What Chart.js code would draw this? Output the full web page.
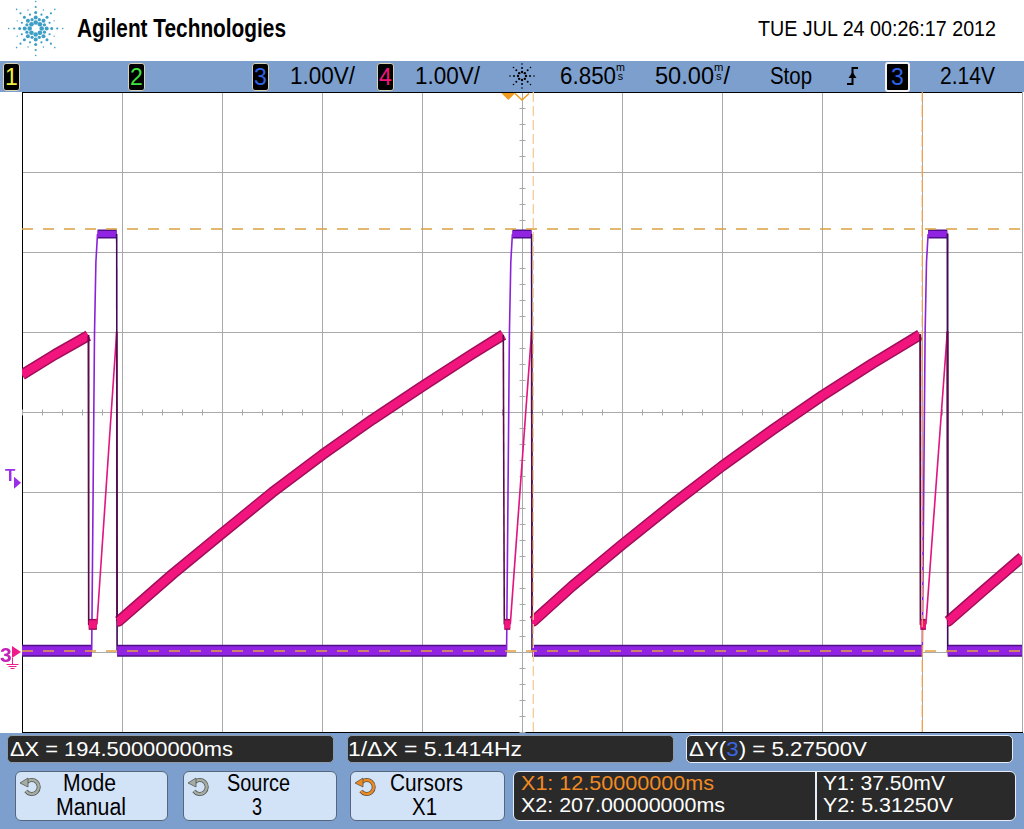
<!DOCTYPE html>
<html lang="en">
<head>
<meta charset="UTF-8">
<title>Agilent Technologies - cursors</title>
<script src="https://cdn.jsdelivr.net/npm/chart.js@4.4.1/dist/chart.umd.min.js"></script>
<style>
  html, body { margin: 0; padding: 0; }
  body { width: 1024px; height: 829px; position: relative; overflow: hidden; background: #fff;
         font-family: "Liberation Sans Narrow", "Liberation Sans", Arial, sans-serif; color: #000; }
  .t { position: absolute; white-space: nowrap; height: 30px; line-height: 30px; transform-origin: 0 50%; }
  .bar { position: absolute; left: 0; width: 1024px; background: #7c9fcd; }
  .chbox { position: absolute; top: 63px; height: 26px; width: 15px; background: #000; border: 1px solid #d9d2b4;
           border-radius: 3px; text-align: center; font-size: 23px; line-height: 27px; }
  .meas { position: absolute; top: 735px; height: 26px; background: #2a2a2a; border: 1.5px solid #8e9aa8; border-radius: 5px; }
  .key { position: absolute; top: 771px; height: 48px; background: #d3e3f7; border: 1.5px solid #56677c; border-radius: 6px; }
  .unit { display: inline-block; font-size: 11px; line-height: 9px; vertical-align: 4px; text-align: center; }
  .w { color: #fff; }
  #scope { position: absolute; left: 0; top: 90px; width: 1024px; height: 644px; }
</style>
</head>
<body>
  <!-- header -->
  <svg id="logo" width="72" height="60" style="position:absolute;left:0;top:0"></svg>
  <div class="t" style="left:77px;top:13px;font-size:25.5px;font-weight:bold" data-w="209">Agilent Technologies</div>
  <div class="t" style="left:758px;top:14px;font-size:22px" data-w="238">TUE JUL 24 00:26:17 2012</div>

  <!-- channel / timebase bar -->
  <div class="bar" style="top:61px;height:31px"></div>
  <div class="chbox" style="left:3px;color:#f4f040">1</div>
  <div class="chbox" style="left:128px;color:#3fe03f">2</div>
  <div class="chbox" style="left:252px;color:#2f62e6">3</div>
  <div class="t" style="left:290px;top:61px;font-size:23px" data-w="65">1.00V/</div>
  <div class="chbox" style="left:377px;color:#f0167f">4</div>
  <div class="t" style="left:415px;top:61px;font-size:23px" data-w="65">1.00V/</div>
  <svg id="acq" width="30" height="30" style="position:absolute;left:507px;top:61px"></svg>
  <div class="t" style="left:560px;top:61px;font-size:23px" data-w="65">6.850<span class="unit">m<br>s</span></div>
  <div class="t" style="left:655px;top:61px;font-size:23px" data-w="75">50.00<span class="unit">m<br>s</span>/</div>
  <div class="t" style="left:770px;top:61px;font-size:23px" data-w="42">Stop</div>
  <svg width="14" height="22" style="position:absolute;left:846px;top:65px">
    <path d="M1 19 H6.5 V3 H12" fill="none" stroke="#000" stroke-width="2"/>
    <polygon points="2.5,13 6.5,7 10.5,13" fill="#000"/>
  </svg>
  <div class="chbox" style="left:885px;width:21px;border:2px solid #f2f2f2;top:62px;color:#2f62e6">3</div>
  <div class="t" style="left:940px;top:61px;font-size:23px" data-w="55">2.14V</div>

  <!-- bottom softkey / readout bar -->
  <div class="bar" style="top:733px;height:96px"></div>
  <div class="meas" style="left:7px;width:325px"></div>
  <div class="meas" style="left:347px;width:325px"></div>
  <div class="meas" style="left:686px;width:325px;border-color:#e6edf6"></div>
  <div class="t w" style="left:10px;top:734px;font-size:21px" data-w="223">&Delta;X = 194.50000000ms</div>
  <div class="t w" style="left:348px;top:734px;font-size:21px" data-w="174">1/&Delta;X = 5.1414Hz</div>
  <div class="t w" style="left:689px;top:734px;font-size:21px" data-w="178">&Delta;Y(<span style="color:#3a66e0">3</span>) = 5.27500V</div>

  <div class="key" style="left:15px;width:151px"></div>
  <div class="key" style="left:183px;width:152px"></div>
  <div class="key" style="left:350px;width:153px"></div>
  <svg class="ico" data-c="#a3ada2" width="26" height="22" style="position:absolute;left:19px;top:776px"></svg>
  <svg class="ico" data-c="#a3ada2" width="26" height="22" style="position:absolute;left:187px;top:776px"></svg>
  <svg class="ico" data-c="#f08a1c" width="26" height="22" style="position:absolute;left:354px;top:776px"></svg>
  <div class="t" style="left:63px;top:768px;font-size:23px" data-w="53">Mode</div>
  <div class="t" style="left:56px;top:792px;font-size:23px" data-w="70">Manual</div>
  <div class="t" style="left:227px;top:768px;font-size:23px" data-w="63">Source</div>
  <div class="t" style="left:252px;top:792px;font-size:23px" data-w="10">3</div>
  <div class="t" style="left:390px;top:768px;font-size:23px" data-w="73">Cursors</div>
  <div class="t" style="left:412px;top:792px;font-size:23px" data-w="25">X1</div>

  <div class="key" style="left:513px;width:501px;height:48px;background:#2a2a2a;border-color:#e6edf6"></div>
  <div style="position:absolute;left:815px;top:772px;width:1.5px;height:49px;background:#e6edf6"></div>
  <div class="t" style="left:521px;top:768px;font-size:21px;color:#f28a22" data-w="193">X1: 12.50000000ms</div>
  <div class="t w" style="left:521px;top:790px;font-size:21px" data-w="204">X2: 207.00000000ms</div>
  <div class="t w" style="left:823px;top:768px;font-size:21px" data-w="122">Y1: 37.50mV</div>
  <div class="t w" style="left:823px;top:790px;font-size:21px" data-w="130">Y2: 5.31250V</div>

  <!-- waveform area -->
  <div id="scope"><canvas id="scopeChart"></canvas></div>

<script>
// horizontal: 50 ms/div, 10 divisions, delay 6.850 ms at screen centre
const timeDiv = 50;
const delayMs = 6.85;
const xMin = delayMs - 5 * timeDiv;
const xMax = delayMs + 5 * timeDiv;
// vertical: 1.00 V/div, 8 divisions, ground marker 3.025 div under centre
const yMin = -0.975;
const yMax = 7.025;

// channel 3 (purple) - gate pulse
const ch3Ms = [-243.15, -208.3, -207.6, -206.9, -206.2, -205.4, -195.8, -195.6,
               -0.85, -0.15, 0.55, 1.25, 2.05, 11.65, 11.85,
               207.0, 207.7, 208.4, 209.1, 209.9, 219.5, 219.7, 256.85];
const ch3V  = [0.04, 0.04, 2.0, 4.0, 4.9, 5.25, 5.25, 0.04,
               0.04, 2.0, 4.0, 4.9, 5.25, 5.25, 0.04,
               0.04, 2.0, 4.0, 4.9, 5.25, 5.25, 0.04, 0.04];

// channel 4 (pink) - ramp
const ch4Ms = [-243.15, -226.6, -210.0, -209.8, -205.7, -195.8, -195.6,
               -194.8, -167.8, -143.0, -118.0, -93.0, -68.0, -43.0, -18.0, -2.5, -2.0, 1.0, 11.65, 11.85,
               12.5, 32.0, 57.0, 82.0, 107.0, 132.0, 157.0, 182.0, 205.85, 206.05, 208.8, 219.5, 219.7,
               220.0, 238.35, 256.85];
const ch4V  = [3.49, 3.745, 3.98, 0.37, 0.37, 4.03, 0.41,
               0.41, 1.00, 1.51, 2.02, 2.49, 2.93, 3.345, 3.75, 3.99, 0.37, 0.37, 4.03, 0.41,
               0.41, 0.85, 1.37, 1.87, 2.35, 2.80, 3.23, 3.63, 3.99, 0.37, 0.37, 4.03, 0.41,
               0.41, 0.81, 1.21];

// cursor readouts
const cursorXms = [12.5, 207.0];
const cursorYv = [0.0375, 5.3125];
const triggerLevelV = 2.14;

// logo + little acquisition star
(function () {
  let s = '';
  for (let k = 0; k < 8; k++) {
    const a = k * Math.PI / 4;
    [[6, 2.3], [11, 2.0], [16, 1.5], [21.5, 1.1], [27, 0.8]].forEach(([r, d]) => {
      s += `<circle cx="${35.7 + r * Math.cos(a)}" cy="${28.5 + r * Math.sin(a)}" r="${d}"/>`;
    });
    const b = a + Math.PI / 8;
    [[9.5, 1.6], [15, 1.1], [20, 0.7]].forEach(([r, d]) => {
      s += `<circle cx="${35.7 + r * Math.cos(b)}" cy="${28.5 + r * Math.sin(b)}" r="${d}"/>`;
    });
  }
  document.getElementById('logo').innerHTML = `<g fill="#3d9ec6">${s}</g>`;

  let q = '';
  for (let k = 0; k < 8; k++) {
    const a = k * Math.PI / 4;
    [[4, 1.2], [8, 1.0], [12, 0.8]].forEach(([r, d]) => {
      q += `<circle cx="${15 + r * Math.cos(a)}" cy="${15 + r * Math.sin(a)}" r="${d}"/>`;
    });
  }
  document.getElementById('acq').innerHTML = `<g fill="#000">${q}</g>`;

  document.querySelectorAll('.ico').forEach(el => {
    const c = el.dataset.c;
    el.innerHTML = `<path d="M7 15 A7 7 0 1 0 7 7" fill="none" stroke="#555" stroke-width="4"/>
      <path d="M7 15 A7 7 0 1 0 7 7" fill="none" stroke="${c}" stroke-width="2.4"/>
      <polygon points="1,7 9,2 9,11" fill="${c}" stroke="#555" stroke-width="0.8"/>`;
  });
})();

// squeeze every text to the width it has on the screen
document.querySelectorAll('[data-w]').forEach(el => {
  const w = el.getBoundingClientRect().width;
  if (w > 0) el.style.transform = `scaleX(${el.dataset.w / w})`;
});

const pts = (xs, ys) => xs.map((x, i) => ({ x: x, y: ys[i] }));

// near-vertical edges are thin, the noisy flat parts are a thick band
function steep(c) {
  const dx = Math.abs(c.p1.x - c.p0.x), dy = Math.abs(c.p1.y - c.p0.y);
  return dy > 20 && dy > 3 * dx;
}

function trace(data, band, edgeUp, edgeDown, width, highWidth, order) {
  return {
    data: data,
    order: order,
    borderColor: band,
    borderWidth: width,
    borderJoinStyle: 'round',
    pointRadius: 0,
    tension: 0,
    clip: 0,
    segment: {
      borderWidth: c => steep(c) ? 1.6 : (data[c.p0DataIndex].y > 5 ? highWidth : width),
      borderColor: c => !steep(c) ? band : (c.p1.y < c.p0.y ? edgeUp : edgeDown)
    }
  };
}

function cursor(data, color, dash, order) {
  return { data: data, order: order, borderColor: color, borderWidth: 1.3, borderDash: dash,
           pointRadius: 0, tension: 0, clip: 0 };
}

const none = 'rgba(0,0,0,0)';
const ch3 = pts(ch3Ms, ch3V);
const ch4 = pts(ch4Ms, ch4V);

const datasets = [
  trace(ch3, '#4f0f86', none, none, 12, 9, 6),
  trace(ch3, '#9124e3', '#8a22d8', '#3c0c5a', 9, 6, 5),
  trace(ch4, '#a20d5a', none, none, 11, 11, 4),
  trace(ch4, '#f2157e', '#e0157f', '#5a0a48', 8, 8, 3),
  cursor([{ x: xMin, y: cursorYv[0] }, { x: xMax, y: cursorYv[0] }], '#e2a040', [11, 10], 0),
  cursor([{ x: xMin, y: cursorYv[1] }, { x: xMax, y: cursorYv[1] }], '#d9a040', [11, 10], 0),
  cursor([{ x: cursorXms[0], y: yMin }, { x: cursorXms[0], y: yMax }], '#f6cc98', [10, 4], 0),
  cursor([{ x: cursorXms[1], y: yMin }, { x: cursorXms[1], y: yMax }], '#eea050', [12, 3], 0)
];

const scopeMarks = {
  id: 'scopeMarks',
  beforeDatasetsDraw(chart) {
    const { ctx, chartArea: a, scales: { x, y } } = chart;
    const cx = Math.round(x.getPixelForValue(delayMs)) + 0.5;
    const cy = Math.round(y.getPixelForValue((yMin + yMax) / 2)) + 0.5;
    ctx.save();
    ctx.strokeStyle = '#a9a9a9';
    ctx.lineWidth = 1;
    ctx.beginPath();
    for (let t = xMin; t <= xMax + 0.01; t += timeDiv / 5) {
      const px = Math.round(x.getPixelForValue(t)) + 0.5;
      ctx.moveTo(px, cy - 3); ctx.lineTo(px, cy + 3);
    }
    for (let v = yMin; v <= yMax + 0.01; v += 0.2) {
      const py = Math.round(y.getPixelForValue(v)) + 0.5;
      ctx.moveTo(cx - 3, py); ctx.lineTo(cx + 3, py);
    }
    ctx.stroke();
    ctx.strokeStyle = '#000';
    ctx.beginPath();
    ctx.moveTo(a.left, a.top + 0.5); ctx.lineTo(a.right, a.top + 0.5);
    ctx.stroke();
    ctx.restore();
  },
  afterDraw(chart) {
    const { ctx, chartArea: a, scales: { x, y } } = chart;
    ctx.save();
    // trigger point and delay reference at the top edge
    const tx = x.getPixelForValue(0);
    ctx.fillStyle = '#f39a1e';
    ctx.beginPath();
    ctx.moveTo(tx - 7, a.top + 1); ctx.lineTo(tx + 7, a.top + 1); ctx.lineTo(tx, a.top + 8);
    ctx.closePath(); ctx.fill();
    const dx = x.getPixelForValue(delayMs);
    ctx.strokeStyle = '#f39a1e';
    ctx.lineWidth = 1.5;
    ctx.beginPath();
    ctx.moveTo(dx - 7, a.top + 1.5); ctx.lineTo(dx, a.top + 8); ctx.lineTo(dx + 7, a.top + 1.5);
    ctx.stroke();

    // trigger level marker
    const ty = y.getPixelForValue(triggerLevelV);
    ctx.fillStyle = '#9b2ee6';
    ctx.beginPath();
    ctx.moveTo(14, ty - 6); ctx.lineTo(21, ty); ctx.lineTo(14, ty + 6);
    ctx.closePath(); ctx.fill();
    ctx.font = 'bold 17px "Liberation Sans Narrow", "Liberation Sans", Arial';
    ctx.fillText('T', 5, ty - 2);

    // ground markers for channels 3 and 4
    const gy = y.getPixelForValue(0);
    ctx.fillStyle = '#ee1c8a';
    ctx.beginPath();
    ctx.moveTo(12, gy - 8); ctx.lineTo(21, gy - 2); ctx.lineTo(12, gy + 4);
    ctx.closePath(); ctx.fill();
    ctx.fillStyle = '#c41fb8';
    ctx.font = 'bold 21px "Liberation Sans Narrow", "Liberation Sans", Arial';
    ctx.fillText('3', 0, gy + 8);
    ctx.strokeStyle = '#ee1c8a';
    ctx.lineWidth = 1;
    ctx.beginPath();
    ctx.moveTo(12.5, gy + 4); ctx.lineTo(12.5, gy + 10);
    ctx.moveTo(6.5, gy + 10.5); ctx.lineTo(18.5, gy + 10.5);
    ctx.moveTo(8.5, gy + 12.5); ctx.lineTo(16.5, gy + 12.5);
    ctx.moveTo(10.5, gy + 14.5); ctx.lineTo(14.5, gy + 14.5);
    ctx.stroke();
    ctx.restore();
  }
};

new Chart(document.getElementById('scopeChart'), {
  type: 'line',
  data: { datasets: datasets },
  options: {
    responsive: true,
    maintainAspectRatio: false,
    animation: false,
    events: [],
    layout: { padding: { left: 22, right: 2, top: 2, bottom: 2 } },
    plugins: { legend: { display: false }, tooltip: { enabled: false } },
    scales: {
      x: {
        type: 'linear', min: xMin, max: xMax,
        afterBuildTicks: s => { s.ticks = []; for (let k = 0; k <= 10; k++) s.ticks.push({ value: xMin + k * timeDiv }); },
        ticks: { display: false },
        grid: { color: '#a9a9a9', drawTicks: false },
        border: { color: '#000' }
      },
      y: {
        type: 'linear', min: yMin, max: yMax,
        afterBuildTicks: s => { s.ticks = []; for (let k = 0; k <= 8; k++) s.ticks.push({ value: yMin + k }); },
        ticks: { display: false },
        grid: { color: '#a9a9a9', drawTicks: false },
        border: { color: '#000' }
      }
    }
  },
  plugins: [scopeMarks]
});
</script>
</body>
</html>
